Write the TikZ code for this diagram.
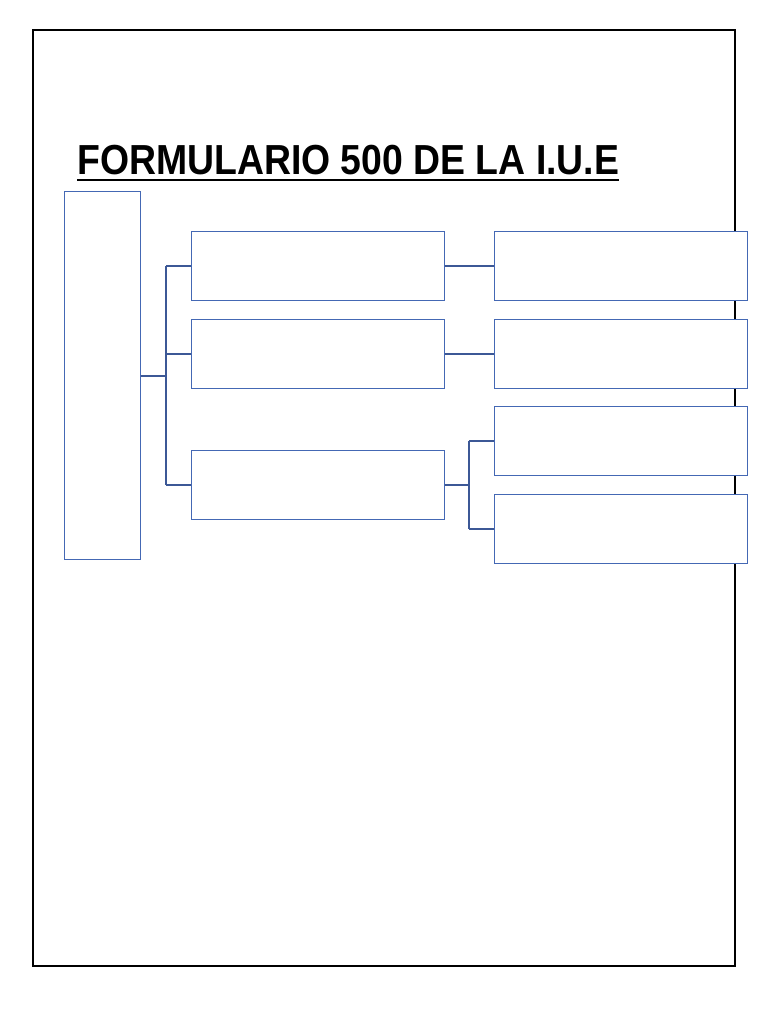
\documentclass[tikz,border=0pt]{standalone}
\usepackage{fontspec}
\setmainfont{Liberation Sans}
\usetikzlibrary{calc}
\definecolor{boxblue}{RGB}{68,104,180}
\definecolor{linkblue}{RGB}{60,88,150}
\tikzset{
  page/.style={draw=black, line width=2pt},
  card/.style={draw=boxblue, fill=white, line width=1.4pt, inner sep=0pt, anchor=north west},
  link/.style={draw=linkblue, line width=1.8pt},
}
\begin{document}
\begin{tikzpicture}[x=1pt,y=-1pt]
\useasboundingbox (0,0) rectangle (768,1024);
\fill[white] (0,0) rectangle (768,1024);
\draw[page] (33,30) rectangle (735,966);
% title
\node[anchor=base west, inner sep=0pt, font=\fontsize{42}{48}\selectfont\bfseries, xscale=0.89] (title) at (77,175) {FORMULARIO 500 DE LA I.U.E};
\draw[line width=2.2pt] ($(title.base west)+(0,5)$) -- ($(title.base east)+(0,5)$);
% boxes
\node[card, minimum width=76pt, minimum height=368pt] (root) at (64,191) {};
\node[card, minimum width=253pt, minimum height=69pt] (m1) at (191,231) {};
\node[card, minimum width=253pt, minimum height=69pt] (m2) at (191,319) {};
\node[card, minimum width=253pt, minimum height=69pt] (m3) at (191,450) {};
\node[card, minimum width=253pt, minimum height=69pt] (r1) at (494,231) {};
\node[card, minimum width=253pt, minimum height=69pt] (r2) at (494,319) {};
\node[card, minimum width=253pt, minimum height=69pt] (r3) at (494,406) {};
\node[card, minimum width=253pt, minimum height=69pt] (r4) at (494,494) {};
% connectors
\coordinate (j1) at (166,0);
\coordinate (j2) at (469,0);
\draw[link] (root.east) -- (root.east -| j1);
\draw[link] (m1.west -| j1) -- (m3.west -| j1);
\draw[link] (m1.west -| j1) -- (m1.west);
\draw[link] (m2.west -| j1) -- (m2.west);
\draw[link] (m3.west -| j1) -- (m3.west);
\draw[link] (m1.east) -- (r1.west);
\draw[link] (m2.east) -- (r2.west);
\draw[link] (m3.east) -- (m3.east -| j2);
\draw[link] (r3.west -| j2) -- (r4.west -| j2);
\draw[link] (r3.west -| j2) -- (r3.west);
\draw[link] (r4.west -| j2) -- (r4.west);
\end{tikzpicture}
\end{document}
